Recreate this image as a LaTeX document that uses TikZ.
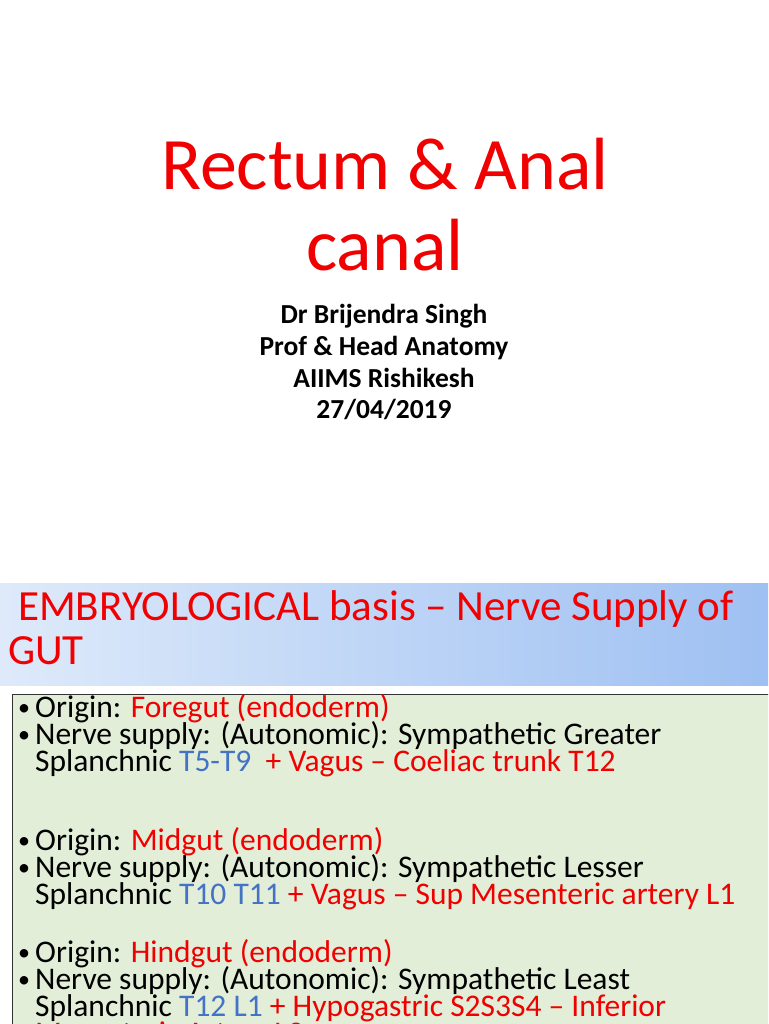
\documentclass[tikz,border=0pt]{standalone}
\usepackage{fontspec}
\setmainfont{Carlito}
\definecolor{rd}{RGB}{240,0,0}
\definecolor{bl}{RGB}{68,114,196}
\definecolor{boxfill}{RGB}{226,238,216}
\definecolor{gl}{RGB}{222,234,250}
\definecolor{gr}{RGB}{158,192,242}
\begin{document}
\begin{tikzpicture}[x=1pt,y=-1pt,
  body/.style={anchor=base west,inner sep=0pt,font=\fontsize{31.5}{31.5}\selectfont},
  sub/.style={anchor=base,inner sep=0pt,font=\fontsize{27.5}{27.5}\selectfont\bfseries}]
\useasboundingbox (0,0) rectangle (768,1024);
\clip (0,0) rectangle (768,1024);
\fill[white] (0,0) rectangle (768,1024);
\node[anchor=base,inner sep=0pt,text=rd,font=\fontsize{74}{74}\selectfont] (t1) at (385,190) {Rectum \& Anal};
\node[anchor=base,inner sep=0pt,text=rd,font=\fontsize{74}{74}\selectfont] (t2) at (385,270) {canal};
\node[sub] (s1) at (384,323) {Dr Brijendra Singh};
\node[sub] (s2) at (384,355) {Prof \& Head Anatomy};
\node[sub] (s3) at (384,387) {AIIMS Rishikesh};
\node[sub] (s4) at (384,418) {27/04/2019};
\shade[left color=gl,right color=gr] (0,583) rectangle (768,685);
\node[anchor=base west,inner sep=0pt,text=rd,font=\fontsize{43}{43}\selectfont] (b1) at (18,620) {EMBRYOLOGICAL basis – Nerve Supply of};
\node[anchor=base west,inner sep=0pt,text=rd,font=\fontsize{43}{43}\selectfont] (b2) at (8,664) {GUT};
\draw[fill=boxfill,draw=black!80,line width=1pt] (12,694) rectangle (790,1040);
\foreach \y in {717,744,850,877,962,989}{\node[body,font=\fontsize{24}{24}\selectfont] at (18,\y-2) {•};}
\node[body] at (35,717) {Origin: \textcolor{rd}{Foregut (endoderm)}};
\node[body] at (35,744) {Nerve supply: (Autonomic): Sympathetic Greater};
\node[body] at (35,771) {Splanchnic \textcolor{bl}{T5-T9}\ \ \textcolor{rd}{+ Vagus – Coeliac trunk T12}};
\node[body] at (35,850) {Origin: \textcolor{rd}{Midgut (endoderm)}};
\node[body] at (35,877) {Nerve supply: (Autonomic): Sympathetic Lesser};
\node[body] at (35,904) {Splanchnic \textcolor{bl}{T10 T11} \textcolor{rd}{+ Vagus – Sup Mesenteric artery L1}};
\node[body] at (35,962) {Origin: \textcolor{rd}{Hindgut (endoderm)}};
\node[body] at (35,989) {Nerve supply: (Autonomic): Sympathetic Least};
\node[body] at (35,1016) {Splanchnic \textcolor{bl}{T12 L1} \textcolor{rd}{+ Hypogastric S2S3S4 – Inferior}};
\node[body] at (35,1043) {\textcolor{rd}{Mesenteric Artery L3}};
\end{tikzpicture}
\end{document}
